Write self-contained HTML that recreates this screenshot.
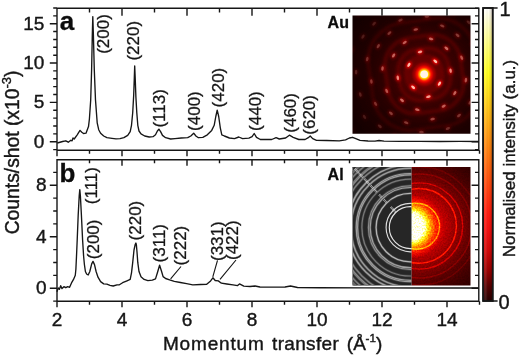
<!DOCTYPE html>
<html lang="en"><head><meta charset="utf-8"><title>Diffraction: Au and Al</title>
<style>html,body{margin:0;padding:0;background:#fff}body{width:520px;height:356px;overflow:hidden}</style></head>
<body>
<svg width="520" height="356" viewBox="0 0 520 356" style="display:block">
<defs>
<linearGradient id="cb" x1="0" y1="1" x2="0" y2="0">
<stop offset="0" stop-color="#260000"/>
<stop offset="0.05" stop-color="#560000"/>
<stop offset="0.10" stop-color="#960000"/>
<stop offset="0.17" stop-color="#d00808"/>
<stop offset="0.24" stop-color="#f01010"/>
<stop offset="0.30" stop-color="#ff1c10"/>
<stop offset="0.50" stop-color="#ff7a10"/>
<stop offset="0.78" stop-color="#ffff1e"/>
<stop offset="1" stop-color="#ffffff"/>
</linearGradient>
<radialGradient id="augl" gradientUnits="userSpaceOnUse" cx="424.2" cy="74.3" r="90">
<stop offset="0" stop-color="#fff" stop-opacity="1"/>
<stop offset="0.03" stop-color="#fff" stop-opacity="0.92"/>
<stop offset="0.05" stop-color="#fff" stop-opacity="0.66"/>
<stop offset="0.075" stop-color="#fff" stop-opacity="0.40"/>
<stop offset="0.105" stop-color="#fff" stop-opacity="0.24"/>
<stop offset="0.14" stop-color="#fff" stop-opacity="0.15"/>
<stop offset="0.2" stop-color="#fff" stop-opacity="0.105"/>
<stop offset="0.35" stop-color="#fff" stop-opacity="0.07"/>
<stop offset="0.6" stop-color="#fff" stop-opacity="0.038"/>
<stop offset="1" stop-color="#fff" stop-opacity="0.012"/>
</radialGradient>
<radialGradient id="algl" gradientUnits="userSpaceOnUse" cx="417" cy="226.3" r="84">
<stop offset="0" stop-color="#fff" stop-opacity="0.33"/>
<stop offset="0.24" stop-color="#fff" stop-opacity="0.32"/>
<stop offset="0.286" stop-color="#fff" stop-opacity="0.295"/>
<stop offset="0.357" stop-color="#fff" stop-opacity="0.25"/>
<stop offset="0.44" stop-color="#fff" stop-opacity="0.21"/>
<stop offset="0.524" stop-color="#fff" stop-opacity="0.175"/>
<stop offset="0.655" stop-color="#fff" stop-opacity="0.12"/>
<stop offset="0.83" stop-color="#fff" stop-opacity="0.078"/>
<stop offset="1" stop-color="#fff" stop-opacity="0.05"/>
</radialGradient>
<radialGradient id="alco" gradientUnits="userSpaceOnUse" cx="410.5" cy="226.7" r="32">
<stop offset="0" stop-color="#fff" stop-opacity="1"/>
<stop offset="0.40" stop-color="#fff" stop-opacity="1"/>
<stop offset="0.47" stop-color="#fff" stop-opacity="0.84"/>
<stop offset="0.55" stop-color="#fff" stop-opacity="0.60"/>
<stop offset="0.65" stop-color="#fff" stop-opacity="0.38"/>
<stop offset="0.78" stop-color="#fff" stop-opacity="0.17"/>
<stop offset="1" stop-color="#fff" stop-opacity="0"/>
</radialGradient>
<filter id="hot" x="0" y="0" width="100%" height="100%" color-interpolation-filters="sRGB">
<feComponentTransfer>
<feFuncR type="table" tableValues="0.04 0.30 0.57 0.83 1 1 1 1 1 1 1"/>
<feFuncG type="table" tableValues="0 0 0 0 0.09 0.35 0.62 0.88 1 1 1"/>
<feFuncB type="table" tableValues="0 0 0 0 0 0 0 0 0.21 0.61 1"/>
</feComponentTransfer>
</filter>
<filter id="hotn" x="0" y="0" width="100%" height="100%" color-interpolation-filters="sRGB">
<feTurbulence type="fractalNoise" baseFrequency="0.6" numOctaves="2" seed="7" result="n"/>
<feColorMatrix in="n" type="matrix" values="1 0 0 0 0  1 0 0 0 0  1 0 0 0 0  0 0 0 0 1" result="ng"/>
<feComposite in="SourceGraphic" in2="ng" operator="arithmetic" k1="0.5" k2="0.76" k3="0" k4="0" result="m"/>
<feComponentTransfer in="m">
<feFuncR type="table" tableValues="0.04 0.30 0.57 0.83 1 1 1 1 1 1 1"/>
<feFuncG type="table" tableValues="0 0 0 0 0.09 0.35 0.62 0.88 1 1 1"/>
<feFuncB type="table" tableValues="0 0 0 0 0 0 0 0 0.21 0.61 1"/>
<feFuncA type="linear" slope="0" intercept="1"/>
</feComponentTransfer>
</filter>
<linearGradient id="cbs" x1="0" y1="0" x2="1" y2="0">
<stop offset="0" stop-color="#fff" stop-opacity="0.05"/>
<stop offset="0.3" stop-color="#fff" stop-opacity="0.12"/>
<stop offset="0.55" stop-color="#000" stop-opacity="0"/>
<stop offset="1" stop-color="#400000" stop-opacity="0.22"/>
</linearGradient>
<filter id="b1" x="-50%" y="-50%" width="200%" height="200%"><feGaussianBlur stdDeviation="0.7"/></filter>
<filter id="b2" x="-50%" y="-50%" width="200%" height="200%"><feGaussianBlur stdDeviation="1.6"/></filter>
<filter id="b3" x="-50%" y="-50%" width="200%" height="200%"><feGaussianBlur stdDeviation="3.5"/></filter>
<filter id="b05" x="-20%" y="-20%" width="140%" height="140%"><feGaussianBlur stdDeviation="0.45"/></filter>

<clipPath id="cau"><rect x="352.5" y="15.5" width="118" height="118.3"/></clipPath>
<clipPath id="call"><rect x="352.5" y="167" width="59.2" height="118.5"/></clipPath>
<clipPath id="calr"><rect x="411.7" y="167" width="58.8" height="118.5"/></clipPath>
</defs>
<rect width="520" height="356" fill="#ffffff"/>
<polyline points="57.3,143.0 62.6,141.5 65.8,140.8 68.3,142.2 70.8,140.3 72.1,140.8 73.0,138.0 74.2,139.0 77.2,134.8 80.0,130.4 81.8,132.3 83.5,133.5 86.0,133.2 87.3,129.7 88.5,126.6 89.4,119.0 90.7,100.0 91.6,70.0 92.3,35.0 92.8,16.6 93.4,35.0 94.3,70.0 95.5,100.0 97.2,122.8 98.7,129.7 100.6,133.2 103.7,136.0 106.9,137.7 112.0,138.4 116.0,138.9 120.0,138.6 123.9,137.7 127.7,135.4 130.2,131.6 131.5,125.3 132.7,112.7 133.7,95.0 134.3,78.0 134.7,66.0 135.2,78.0 135.9,97.0 136.8,112.7 137.8,125.3 139.0,131.0 141.0,133.9 144.7,136.0 149.2,137.0 153.0,136.7 155.5,134.8 157.4,131.0 158.9,129.1 160.6,131.6 162.5,135.4 165.6,137.7 170.7,139.0 175.0,138.6 181.3,138.0 187.7,137.7 190.8,136.0 193.7,133.2 195.9,136.0 198.4,137.7 202.8,137.3 207.3,134.8 211.7,130.4 214.2,125.3 215.8,116.5 217.2,110.1 218.7,116.5 220.3,127.8 221.8,134.8 224.4,136.0 229.4,138.0 234.5,138.6 238.8,137.0 242.6,138.6 248.9,138.2 252.1,136.7 254.2,133.5 256.5,137.3 260.3,139.5 271.7,139.5 276.1,137.7 279.3,139.0 285.6,138.0 289.4,135.2 293.2,137.3 298.8,139.5 305.1,139.5 308.3,137.7 310.2,136.0 312.7,138.6 316.5,140.3 326.6,140.5 339.3,140.8 345.6,139.9 349.4,138.0 352.6,137.3 355.8,138.6 360.0,140.3 368.0,141.0 375.0,141.1 379.0,140.5 384.0,141.2 400.0,141.4 420.0,141.3 440.0,141.5 460.0,141.4 478.5,141.5" fill="none" stroke="#161616" stroke-width="1.35" stroke-linejoin="round"/>
<polyline points="56.9,291.8 58.2,288.0 59.4,289.2 60.7,285.7 62.0,288.6 63.9,286.7 65.8,287.7 67.7,286.7 69.6,287.3 71.5,282.9 73.4,279.7 75.3,275.3 75.9,269.0 76.5,256.3 77.2,240.0 78.2,215.0 79.2,196.0 79.8,189.6 80.4,196.0 81.4,215.0 82.6,240.0 83.6,256.0 84.4,264.5 85.4,271.5 86.6,274.0 88.2,275.0 89.8,271.5 91.7,263.9 93.0,261.4 94.5,264.6 96.1,271.5 98.0,277.2 100.6,281.6 103.7,283.9 106.9,284.2 110.0,285.4 113.2,286.0 117.0,284.8 119.4,284.8 122.6,282.7 127.0,280.8 130.2,279.4 131.5,272.8 132.7,262.7 134.0,250.0 135.2,244.5 135.9,243.0 136.4,245.0 137.0,252.0 137.8,262.7 139.0,271.5 141.0,276.8 144.1,279.4 147.9,280.6 152.3,280.1 155.5,278.9 157.4,272.8 159.6,265.2 161.6,271.5 163.1,276.6 165.6,278.5 169.6,279.8 174.3,281.4 180.4,282.5 186.6,283.6 192.8,284.8 200.5,284.5 206.7,284.3 210.6,280.9 212.9,277.8 215.2,280.5 218.3,280.9 221.4,283.2 226.8,284.0 233.0,284.8 237.6,285.6 239.5,283.9 243.8,286.2 250.0,286.5 255.0,286.0 260.0,287.0 272.0,287.1 285.0,287.0 290.5,286.0 297.5,287.5 320.0,287.7 365.0,287.8 420.0,288.0 478.5,288.0" fill="none" stroke="#161616" stroke-width="1.35" stroke-linejoin="round"/>
<g clip-path="url(#cau)">
<g filter="url(#hot)">
<rect x="350" y="13" width="123" height="123" fill="#000"/>
<rect x="350" y="13" width="123" height="123" fill="url(#augl)"/>
<g fill="none" stroke="#fff" filter="url(#b2)">
<rect x="406.2" y="56.3" width="36.0" height="36.0" rx="16.2" transform="rotate(-8 424.2 74.3)" stroke-width="3.2" opacity="0.05"/>
<rect x="398.7" y="48.8" width="51.0" height="51.0" rx="20.4" transform="rotate(-8 424.2 74.3)" stroke-width="3.2" opacity="0.06"/>
<rect x="386.2" y="36.3" width="76.0" height="76.0" rx="27.4" transform="rotate(-8 424.2 74.3)" stroke-width="3.2" opacity="0.065"/>
<rect x="370.2" y="20.3" width="108.0" height="108.0" rx="37.8" transform="rotate(-8 424.2 74.3)" stroke-width="3.2" opacity="0.045"/>
</g>
<g fill="#fff" filter="url(#b2)">
<ellipse cx="358.8" cy="14.3" rx="3.3" ry="2.2" transform="rotate(-47 358.8 14.3)" opacity="0.03"/>
<ellipse cx="351.9" cy="49.7" rx="3.3" ry="2.2" transform="rotate(-71 351.9 49.7)" opacity="0.04"/>
<ellipse cx="363.0" cy="36.7" rx="3.3" ry="2.2" transform="rotate(-58 363.0 36.7)" opacity="0.05"/>
<ellipse cx="374.1" cy="23.7" rx="3.3" ry="2.2" transform="rotate(-45 374.1 23.7)" opacity="0.05"/>
<ellipse cx="356.1" cy="72.1" rx="3.3" ry="2.2" transform="rotate(-88 356.1 72.1)" opacity="0.05"/>
<ellipse cx="367.2" cy="59.1" rx="3.3" ry="2.2" transform="rotate(-75 367.2 59.1)" opacity="0.07"/>
<ellipse cx="378.3" cy="46.1" rx="3.3" ry="2.2" transform="rotate(-58 378.3 46.1)" opacity="0.09"/>
<ellipse cx="389.4" cy="33.1" rx="3.3" ry="2.2" transform="rotate(-40 389.4 33.1)" opacity="0.09"/>
<ellipse cx="400.5" cy="20.1" rx="3.3" ry="2.2" transform="rotate(-24 400.5 20.1)" opacity="0.07"/>
<ellipse cx="349.2" cy="107.5" rx="3.3" ry="2.2" transform="rotate(246 349.2 107.5)" opacity="0.03"/>
<ellipse cx="360.3" cy="94.5" rx="3.3" ry="2.2" transform="rotate(252 360.3 94.5)" opacity="0.06"/>
<ellipse cx="371.4" cy="81.5" rx="3.3" ry="2.2" transform="rotate(262 371.4 81.5)" opacity="0.09"/>
<ellipse cx="382.5" cy="68.5" rx="3.3" ry="2.2" transform="rotate(-82 382.5 68.5)" opacity="0.14"/>
<ellipse cx="393.6" cy="55.5" rx="3.3" ry="2.2" transform="rotate(-58 393.6 55.5)" opacity="0.17"/>
<ellipse cx="404.7" cy="42.5" rx="3.3" ry="2.2" transform="rotate(-32 404.7 42.5)" opacity="0.16"/>
<ellipse cx="415.8" cy="29.5" rx="3.3" ry="2.2" transform="rotate(-11 415.8 29.5)" opacity="0.12"/>
<ellipse cx="426.9" cy="16.5" rx="3.3" ry="2.2" transform="rotate(3 426.9 16.5)" opacity="0.08"/>
<ellipse cx="353.4" cy="129.9" rx="3.3" ry="2.2" transform="rotate(232 353.4 129.9)" opacity="0.02"/>
<ellipse cx="364.5" cy="116.9" rx="3.3" ry="2.2" transform="rotate(234 364.5 116.9)" opacity="0.04"/>
<ellipse cx="375.6" cy="103.9" rx="3.3" ry="2.2" transform="rotate(239 375.6 103.9)" opacity="0.08"/>
<ellipse cx="386.7" cy="90.9" rx="3.3" ry="2.2" transform="rotate(246 386.7 90.9)" opacity="0.14"/>
<ellipse cx="397.8" cy="77.9" rx="3.3" ry="2.2" transform="rotate(262 397.8 77.9)" opacity="0.24"/>
<ellipse cx="408.9" cy="64.9" rx="3.3" ry="2.2" transform="rotate(-58 408.9 64.9)" opacity="0.32"/>
<ellipse cx="420.0" cy="51.9" rx="3.3" ry="2.2" transform="rotate(-11 420.0 51.9)" opacity="0.27"/>
<ellipse cx="431.1" cy="38.9" rx="3.3" ry="2.2" transform="rotate(11 431.1 38.9)" opacity="0.17"/>
<ellipse cx="442.2" cy="25.9" rx="3.3" ry="2.2" transform="rotate(20 442.2 25.9)" opacity="0.10"/>
<ellipse cx="453.3" cy="12.9" rx="3.3" ry="2.2" transform="rotate(25 453.3 12.9)" opacity="0.05"/>
<ellipse cx="379.8" cy="126.3" rx="3.3" ry="2.2" transform="rotate(220 379.8 126.3)" opacity="0.05"/>
<ellipse cx="390.9" cy="113.3" rx="3.3" ry="2.2" transform="rotate(220 390.9 113.3)" opacity="0.10"/>
<ellipse cx="402.0" cy="100.3" rx="3.3" ry="2.2" transform="rotate(220 402.0 100.3)" opacity="0.18"/>
<ellipse cx="413.1" cy="87.3" rx="3.3" ry="2.2" transform="rotate(220 413.1 87.3)" opacity="0.33"/>
<ellipse cx="435.3" cy="61.3" rx="3.3" ry="2.2" transform="rotate(40 435.3 61.3)" opacity="0.33"/>
<ellipse cx="446.4" cy="48.3" rx="3.3" ry="2.2" transform="rotate(40 446.4 48.3)" opacity="0.18"/>
<ellipse cx="457.5" cy="35.3" rx="3.3" ry="2.2" transform="rotate(40 457.5 35.3)" opacity="0.10"/>
<ellipse cx="468.6" cy="22.3" rx="3.3" ry="2.2" transform="rotate(40 468.6 22.3)" opacity="0.05"/>
<ellipse cx="395.1" cy="135.7" rx="3.3" ry="2.2" transform="rotate(205 395.1 135.7)" opacity="0.05"/>
<ellipse cx="406.2" cy="122.7" rx="3.3" ry="2.2" transform="rotate(200 406.2 122.7)" opacity="0.10"/>
<ellipse cx="417.3" cy="109.7" rx="3.3" ry="2.2" transform="rotate(191 417.3 109.7)" opacity="0.17"/>
<ellipse cx="428.4" cy="96.7" rx="3.3" ry="2.2" transform="rotate(169 428.4 96.7)" opacity="0.27"/>
<ellipse cx="439.5" cy="83.7" rx="3.3" ry="2.2" transform="rotate(122 439.5 83.7)" opacity="0.32"/>
<ellipse cx="450.6" cy="70.7" rx="3.3" ry="2.2" transform="rotate(82 450.6 70.7)" opacity="0.24"/>
<ellipse cx="461.7" cy="57.7" rx="3.3" ry="2.2" transform="rotate(66 461.7 57.7)" opacity="0.14"/>
<ellipse cx="472.8" cy="44.7" rx="3.3" ry="2.2" transform="rotate(59 472.8 44.7)" opacity="0.08"/>
<ellipse cx="421.5" cy="132.1" rx="3.3" ry="2.2" transform="rotate(183 421.5 132.1)" opacity="0.08"/>
<ellipse cx="432.6" cy="119.1" rx="3.3" ry="2.2" transform="rotate(169 432.6 119.1)" opacity="0.12"/>
<ellipse cx="443.7" cy="106.1" rx="3.3" ry="2.2" transform="rotate(148 443.7 106.1)" opacity="0.16"/>
<ellipse cx="454.8" cy="93.1" rx="3.3" ry="2.2" transform="rotate(122 454.8 93.1)" opacity="0.17"/>
<ellipse cx="465.9" cy="80.1" rx="3.3" ry="2.2" transform="rotate(98 465.9 80.1)" opacity="0.14"/>
<ellipse cx="447.9" cy="128.5" rx="3.3" ry="2.2" transform="rotate(156 447.9 128.5)" opacity="0.07"/>
<ellipse cx="459.0" cy="115.5" rx="3.3" ry="2.2" transform="rotate(140 459.0 115.5)" opacity="0.09"/>
<ellipse cx="470.1" cy="102.5" rx="3.3" ry="2.2" transform="rotate(122 470.1 102.5)" opacity="0.09"/>
</g>
</g>
<g fill="#ffc4b4" filter="url(#b1)">
<ellipse cx="363.0" cy="36.7" rx="2.3" ry="1.25" transform="rotate(-58 363.0 36.7)" opacity="0.14"/>
<ellipse cx="374.1" cy="23.7" rx="2.3" ry="1.25" transform="rotate(-45 374.1 23.7)" opacity="0.14"/>
<ellipse cx="356.1" cy="72.1" rx="2.3" ry="1.25" transform="rotate(-88 356.1 72.1)" opacity="0.16"/>
<ellipse cx="367.2" cy="59.1" rx="2.3" ry="1.25" transform="rotate(-75 367.2 59.1)" opacity="0.22"/>
<ellipse cx="378.3" cy="46.1" rx="2.3" ry="1.25" transform="rotate(-58 378.3 46.1)" opacity="0.26"/>
<ellipse cx="389.4" cy="33.1" rx="2.3" ry="1.25" transform="rotate(-40 389.4 33.1)" opacity="0.26"/>
<ellipse cx="400.5" cy="20.1" rx="2.3" ry="1.25" transform="rotate(-24 400.5 20.1)" opacity="0.22"/>
<ellipse cx="360.3" cy="94.5" rx="2.3" ry="1.25" transform="rotate(252 360.3 94.5)" opacity="0.16"/>
<ellipse cx="371.4" cy="81.5" rx="2.3" ry="1.25" transform="rotate(262 371.4 81.5)" opacity="0.27"/>
<ellipse cx="382.5" cy="68.5" rx="2.3" ry="1.25" transform="rotate(-82 382.5 68.5)" opacity="0.40"/>
<ellipse cx="393.6" cy="55.5" rx="2.3" ry="1.25" transform="rotate(-58 393.6 55.5)" opacity="0.50"/>
<ellipse cx="404.7" cy="42.5" rx="2.3" ry="1.25" transform="rotate(-32 404.7 42.5)" opacity="0.47"/>
<ellipse cx="415.8" cy="29.5" rx="2.3" ry="1.25" transform="rotate(-11 415.8 29.5)" opacity="0.35"/>
<ellipse cx="426.9" cy="16.5" rx="2.3" ry="1.25" transform="rotate(3 426.9 16.5)" opacity="0.23"/>
<ellipse cx="364.5" cy="116.9" rx="2.3" ry="1.25" transform="rotate(234 364.5 116.9)" opacity="0.13"/>
<ellipse cx="375.6" cy="103.9" rx="2.3" ry="1.25" transform="rotate(239 375.6 103.9)" opacity="0.24"/>
<ellipse cx="386.7" cy="90.9" rx="2.3" ry="1.25" transform="rotate(246 386.7 90.9)" opacity="0.41"/>
<ellipse cx="397.8" cy="77.9" rx="2.3" ry="1.25" transform="rotate(262 397.8 77.9)" opacity="0.69"/>
<ellipse cx="408.9" cy="64.9" rx="2.3" ry="1.25" transform="rotate(-58 408.9 64.9)" opacity="0.94"/>
<ellipse cx="420.0" cy="51.9" rx="2.3" ry="1.25" transform="rotate(-11 420.0 51.9)" opacity="0.79"/>
<ellipse cx="431.1" cy="38.9" rx="2.3" ry="1.25" transform="rotate(11 431.1 38.9)" opacity="0.49"/>
<ellipse cx="442.2" cy="25.9" rx="2.3" ry="1.25" transform="rotate(20 442.2 25.9)" opacity="0.28"/>
<ellipse cx="453.3" cy="12.9" rx="2.3" ry="1.25" transform="rotate(25 453.3 12.9)" opacity="0.16"/>
<ellipse cx="379.8" cy="126.3" rx="2.3" ry="1.25" transform="rotate(220 379.8 126.3)" opacity="0.16"/>
<ellipse cx="390.9" cy="113.3" rx="2.3" ry="1.25" transform="rotate(220 390.9 113.3)" opacity="0.29"/>
<ellipse cx="402.0" cy="100.3" rx="2.3" ry="1.25" transform="rotate(220 402.0 100.3)" opacity="0.53"/>
<ellipse cx="413.1" cy="87.3" rx="2.3" ry="1.25" transform="rotate(220 413.1 87.3)" opacity="0.97"/>
<ellipse cx="435.3" cy="61.3" rx="2.3" ry="1.25" transform="rotate(40 435.3 61.3)" opacity="0.97"/>
<ellipse cx="446.4" cy="48.3" rx="2.3" ry="1.25" transform="rotate(40 446.4 48.3)" opacity="0.53"/>
<ellipse cx="457.5" cy="35.3" rx="2.3" ry="1.25" transform="rotate(40 457.5 35.3)" opacity="0.29"/>
<ellipse cx="468.6" cy="22.3" rx="2.3" ry="1.25" transform="rotate(40 468.6 22.3)" opacity="0.16"/>
<ellipse cx="395.1" cy="135.7" rx="2.3" ry="1.25" transform="rotate(205 395.1 135.7)" opacity="0.16"/>
<ellipse cx="406.2" cy="122.7" rx="2.3" ry="1.25" transform="rotate(200 406.2 122.7)" opacity="0.28"/>
<ellipse cx="417.3" cy="109.7" rx="2.3" ry="1.25" transform="rotate(191 417.3 109.7)" opacity="0.49"/>
<ellipse cx="428.4" cy="96.7" rx="2.3" ry="1.25" transform="rotate(169 428.4 96.7)" opacity="0.79"/>
<ellipse cx="439.5" cy="83.7" rx="2.3" ry="1.25" transform="rotate(122 439.5 83.7)" opacity="0.94"/>
<ellipse cx="450.6" cy="70.7" rx="2.3" ry="1.25" transform="rotate(82 450.6 70.7)" opacity="0.69"/>
<ellipse cx="461.7" cy="57.7" rx="2.3" ry="1.25" transform="rotate(66 461.7 57.7)" opacity="0.41"/>
<ellipse cx="472.8" cy="44.7" rx="2.3" ry="1.25" transform="rotate(59 472.8 44.7)" opacity="0.24"/>
<ellipse cx="421.5" cy="132.1" rx="2.3" ry="1.25" transform="rotate(183 421.5 132.1)" opacity="0.23"/>
<ellipse cx="432.6" cy="119.1" rx="2.3" ry="1.25" transform="rotate(169 432.6 119.1)" opacity="0.35"/>
<ellipse cx="443.7" cy="106.1" rx="2.3" ry="1.25" transform="rotate(148 443.7 106.1)" opacity="0.47"/>
<ellipse cx="454.8" cy="93.1" rx="2.3" ry="1.25" transform="rotate(122 454.8 93.1)" opacity="0.50"/>
<ellipse cx="465.9" cy="80.1" rx="2.3" ry="1.25" transform="rotate(98 465.9 80.1)" opacity="0.40"/>
<ellipse cx="447.9" cy="128.5" rx="2.3" ry="1.25" transform="rotate(156 447.9 128.5)" opacity="0.22"/>
<ellipse cx="459.0" cy="115.5" rx="2.3" ry="1.25" transform="rotate(140 459.0 115.5)" opacity="0.26"/>
<ellipse cx="470.1" cy="102.5" rx="2.3" ry="1.25" transform="rotate(122 470.1 102.5)" opacity="0.26"/>
</g>
<circle cx="424.2" cy="74.3" r="3.8" fill="#fff4e8" filter="url(#b1)"/>
</g>
<g clip-path="url(#call)">
<rect x="352" y="166.5" width="60" height="119.5" fill="#262626"/>
<g fill="none" stroke="#8a8a8a">
<circle cx="410.3" cy="227.6" r="34.2" stroke-width="2.7" opacity="0.25"/>
<circle cx="410.3" cy="227.6" r="40.1" stroke-width="2.6" opacity="0.3"/>
<circle cx="410.3" cy="227.6" r="41.9" stroke-width="2.5" opacity="0.3"/>
<circle cx="410.3" cy="227.6" r="48.4" stroke-width="2.6" opacity="0.2"/>
<circle cx="410.3" cy="227.6" r="52.7" stroke-width="2.6" opacity="0.3"/>
<circle cx="410.3" cy="227.6" r="54.1" stroke-width="2.6" opacity="0.3"/>
<circle cx="410.3" cy="227.6" r="59.3" stroke-width="2.9" opacity="0.3"/>
<circle cx="410.3" cy="227.6" r="62.9" stroke-width="2.9" opacity="0.3"/>
<circle cx="410.3" cy="227.6" r="68.4" stroke-width="2.8" opacity="0.25"/>
<circle cx="410.3" cy="227.6" r="71.6" stroke-width="2.7" opacity="0.28"/>
<circle cx="410.3" cy="227.6" r="72.6" stroke-width="2.6" opacity="0.25"/>
<circle cx="410.3" cy="227.6" r="76.5" stroke-width="2.9" opacity="0.25"/>
<circle cx="410.3" cy="227.6" r="79.3" stroke-width="2.7" opacity="0.2"/>
<circle cx="410.3" cy="227.6" r="80.3" stroke-width="2.6" opacity="0.2"/>
<circle cx="410.3" cy="227.6" r="83.8" stroke-width="2.8" opacity="0.2"/>
</g>
<g fill="none" filter="url(#b05)">
<circle cx="410.3" cy="227.6" r="21.0" stroke="#e6e6e6" stroke-width="1.15"/>
<circle cx="410.3" cy="227.6" r="24.2" stroke="#dcdcdc" stroke-width="1.15"/>
<circle cx="410.3" cy="227.6" r="34.2" stroke="#b4b4b4" stroke-width="1.3"/>
<circle cx="410.3" cy="227.6" r="40.1" stroke="#a0a0a0" stroke-width="1.2"/>
<circle cx="410.3" cy="227.6" r="41.9" stroke="#8c8c8c" stroke-width="1.1"/>
<circle cx="410.3" cy="227.6" r="48.4" stroke="#787878" stroke-width="1.2"/>
<circle cx="410.3" cy="227.6" r="52.7" stroke="#a0a0a0" stroke-width="1.2"/>
<circle cx="410.3" cy="227.6" r="54.1" stroke="#a0a0a0" stroke-width="1.2"/>
<circle cx="410.3" cy="227.6" r="59.3" stroke="#9a9a9a" stroke-width="1.5"/>
<circle cx="410.3" cy="227.6" r="62.9" stroke="#a0a0a0" stroke-width="1.5"/>
<circle cx="410.3" cy="227.6" r="68.4" stroke="#808080" stroke-width="1.4"/>
<circle cx="410.3" cy="227.6" r="71.6" stroke="#8c8c8c" stroke-width="1.3"/>
<circle cx="410.3" cy="227.6" r="72.6" stroke="#7c7c7c" stroke-width="1.2"/>
<circle cx="410.3" cy="227.6" r="76.5" stroke="#7e7e7e" stroke-width="1.5"/>
<circle cx="410.3" cy="227.6" r="79.3" stroke="#6c6c6c" stroke-width="1.3"/>
<circle cx="410.3" cy="227.6" r="80.3" stroke="#686868" stroke-width="1.2"/>
<circle cx="410.3" cy="227.6" r="83.8" stroke="#5e5e5e" stroke-width="1.4"/>
</g>
<path d="M395.5 211.9l-2.6 -2.75 M393.3 209.6l-2.6 -2.75 M386.4 202.3l-2.6 -2.75 M381.7 197.3l-2.6 -2.75 M376.7 192.0l-2.6 -2.75 M373.2 188.3l-2.6 -2.75 M369.2 184.1l-2.6 -2.75 M366.8 181.5l-2.6 -2.75 M362.9 177.4l-2.6 -2.75 M360.4 174.8l-2.6 -2.75 M357.4 171.5l-2.6 -2.75" stroke="#d4d4d4" stroke-width="2.4" stroke-dasharray="0.8 0.6" fill="none" opacity="0.85"/>
</g>
<g clip-path="url(#calr)">
<g filter="url(#hotn)">
<rect x="409" y="164" width="64" height="124" fill="#000"/>
<rect x="409" y="164" width="64" height="124" fill="url(#algl)"/>
<rect x="409" y="164" width="64" height="124" fill="url(#alco)"/>
<g fill="none" stroke="#fff" filter="url(#b1)">
<circle cx="416.5" cy="226.3" r="23" stroke-width="1.5" opacity="0.36"/>
<circle cx="419" cy="225.8" r="37.4" stroke-width="1.5" opacity="0.25"/>
<circle cx="419.6" cy="226" r="43.1" stroke-width="1.4" opacity="0.16"/>
<circle cx="419.6" cy="226" r="52" stroke-width="1.4" opacity="0.07"/>
<circle cx="419.6" cy="226" r="59" stroke-width="1.4" opacity="0.05"/>
</g>
</g>
</g>
<rect x="483.1" y="8" width="9.6" height="293" fill="url(#cb)" stroke="#161616" stroke-width="1.6"/>
<rect x="483.1" y="8" width="9.6" height="293" fill="url(#cbs)"/>
<rect x="483.1" y="8" width="9.6" height="293" fill="none" stroke="#161616" stroke-width="1.6"/>
<path d="M492.7 8H497.6M492.7 301H497.6" stroke="#161616" stroke-width="1.3" fill="none"/>
<path d="M57.0 8.2H478.8V150.3H57.0Z M57.0 159.7H478.8V301.2H57.0Z M57.00 150.3v6 M57.00 301.2v6 M89.50 8.2v4.2 M89.50 159.7v3.5 M89.50 150.3v3.5 M89.50 301.2v3.5 M122.00 8.2v7.5 M122.00 159.7v6 M122.00 150.3v6 M122.00 301.2v6 M154.50 8.2v4.2 M154.50 159.7v3.5 M154.50 150.3v3.5 M154.50 301.2v3.5 M187.00 8.2v7.5 M187.00 159.7v6 M187.00 150.3v6 M187.00 301.2v6 M219.50 8.2v4.2 M219.50 159.7v3.5 M219.50 150.3v3.5 M219.50 301.2v3.5 M252.00 8.2v7.5 M252.00 159.7v6 M252.00 150.3v6 M252.00 301.2v6 M284.50 8.2v4.2 M284.50 159.7v3.5 M284.50 150.3v3.5 M284.50 301.2v3.5 M317.00 8.2v7.5 M317.00 159.7v6 M317.00 150.3v6 M317.00 301.2v6 M349.50 8.2v4.2 M349.50 159.7v3.5 M349.50 150.3v3.5 M349.50 301.2v3.5 M382.00 8.2v7.5 M382.00 159.7v6 M382.00 150.3v6 M382.00 301.2v6 M414.50 8.2v4.2 M414.50 159.7v3.5 M414.50 150.3v3.5 M414.50 301.2v3.5 M447.00 8.2v7.5 M447.00 159.7v6 M447.00 150.3v6 M447.00 301.2v6 M479.50 150.3v3.5 M479.50 301.2v3.5 M57.0 149.62h-3.8 M478.8 149.62h-3.8 M57.0 141.75h-7.2 M478.8 141.75h-7.2 M57.0 133.88h-3.8 M478.8 133.88h-3.8 M57.0 126.01h-3.8 M478.8 126.01h-3.8 M57.0 118.14h-3.8 M478.8 118.14h-3.8 M57.0 110.27h-3.8 M478.8 110.27h-3.8 M57.0 102.40h-7.2 M478.8 102.40h-7.2 M57.0 94.53h-3.8 M478.8 94.53h-3.8 M57.0 86.66h-3.8 M478.8 86.66h-3.8 M57.0 78.79h-3.8 M478.8 78.79h-3.8 M57.0 70.92h-3.8 M478.8 70.92h-3.8 M57.0 63.05h-7.2 M478.8 63.05h-7.2 M57.0 55.18h-3.8 M478.8 55.18h-3.8 M57.0 47.31h-3.8 M478.8 47.31h-3.8 M57.0 39.44h-3.8 M478.8 39.44h-3.8 M57.0 31.57h-3.8 M478.8 31.57h-3.8 M57.0 23.70h-7.2 M478.8 23.70h-7.2 M57.0 15.83h-3.8 M478.8 15.83h-3.8 M57.0 7.96h-3.8 M478.8 7.96h-3.8 M57.0 301.13h-3.8 M478.8 301.13h-3.8 M57.0 288.25h-7.2 M478.8 288.25h-7.2 M57.0 275.37h-3.8 M478.8 275.37h-3.8 M57.0 262.49h-3.8 M478.8 262.49h-3.8 M57.0 249.61h-3.8 M478.8 249.61h-3.8 M57.0 236.73h-7.2 M478.8 236.73h-7.2 M57.0 223.85h-3.8 M478.8 223.85h-3.8 M57.0 210.97h-3.8 M478.8 210.97h-3.8 M57.0 198.09h-3.8 M478.8 198.09h-3.8 M57.0 185.21h-7.2 M478.8 185.21h-7.2 M57.0 172.33h-3.8 M478.8 172.33h-3.8" fill="none" stroke="#161616" stroke-width="1.4"/>
<path d="M170.6 278.8L181 266.5M212.8 276.8L217.5 260.3M220 279.3L236 260" fill="none" stroke="#161616" stroke-width="1.15"/>
<g font-family="Liberation Sans, Arial, sans-serif" fill="#161616" font-size="19" stroke="#161616" stroke-width="0.4">
<text x="44.4" y="147.8" text-anchor="end">0</text>
<text x="44.4" y="108.4" text-anchor="end">5</text>
<text x="44.4" y="69.0" text-anchor="end">10</text>
<text x="44.4" y="29.7" text-anchor="end">15</text>
<text x="46.6" y="294.2" text-anchor="end">0</text>
<text x="46.6" y="242.7" text-anchor="end">4</text>
<text x="46.6" y="191.2" text-anchor="end">8</text>
<text x="57.0" y="326.1" text-anchor="middle">2</text>
<text x="122.0" y="326.1" text-anchor="middle">4</text>
<text x="187.0" y="326.1" text-anchor="middle">6</text>
<text x="252.0" y="326.1" text-anchor="middle">8</text>
<text x="317.0" y="326.1" text-anchor="middle">10</text>
<text x="382.0" y="326.1" text-anchor="middle">12</text>
<text x="447.0" y="326.1" text-anchor="middle">14</text>
<text x="162.95" y="349.7" textLength="100.85" lengthAdjust="spacing">Momentum</text>
<text x="272.1" y="349.7" textLength="66.65" lengthAdjust="spacing">transfer</text>
<text x="346.85" y="349.7" textLength="19.15" lengthAdjust="spacing">(Å</text>
<text x="365.5" y="341.6" font-size="11.7">-1</text>
<text x="376.05" y="349.7">)</text>
<text transform="translate(19.3 234.3) rotate(-90)" font-size="19.3">Counts/shot (x10<tspan font-size="13" dy="-8.4">-3</tspan><tspan dy="8.4">)</tspan></text>
<text transform="translate(514.7 257.2) rotate(-90)" font-size="17">Normalised intensity (a.u.)</text>
<text x="499.6" y="15.7" font-size="20">1</text>
<text x="498.6" y="308.7" font-size="20">0</text>
</g>
<g font-family="Liberation Sans, Arial, sans-serif" fill="#161616" font-size="17" stroke="#161616" stroke-width="0.3">
<text transform="translate(109.3 53.8) rotate(-90)">(200)</text>
<text transform="translate(138.9 60.6) rotate(-90)">(220)</text>
<text transform="translate(165.2 127.6) rotate(-90)">(113)</text>
<text transform="translate(199.9 130.9) rotate(-90)">(400)</text>
<text transform="translate(223.9 107.4) rotate(-90)">(420)</text>
<text transform="translate(260.8 130.9) rotate(-90)">(440)</text>
<text transform="translate(296 132.7) rotate(-90)">(460)</text>
<text transform="translate(314.9 134.7) rotate(-90)">(620)</text>
<text transform="translate(97.0 204.2) rotate(-90)">(111)</text>
<text transform="translate(99.2 259.2) rotate(-90)">(200)</text>
<text transform="translate(141.1 240.4) rotate(-90)">(220)</text>
<text transform="translate(164.9 262.4) rotate(-90)">(311)</text>
<text transform="translate(185.8 265.4) rotate(-90)">(222)</text>
<text transform="translate(222.6 261) rotate(-90)">(331)</text>
<text transform="translate(238 260) rotate(-90)">(422)</text>
</g>
<g font-family="Liberation Sans, Arial, sans-serif" fill="#0c0c0c" font-weight="bold" stroke="#0c0c0c" stroke-width="0.3">
<text x="59.8" y="30.2" font-size="26">a</text>
<text x="59.6" y="182.4" font-size="26">b</text>
<text x="327.6" y="27.6" font-size="16">Au</text>
<text x="327.6" y="179.6" font-size="16">Al</text>
</g>
</svg>
</body></html>
